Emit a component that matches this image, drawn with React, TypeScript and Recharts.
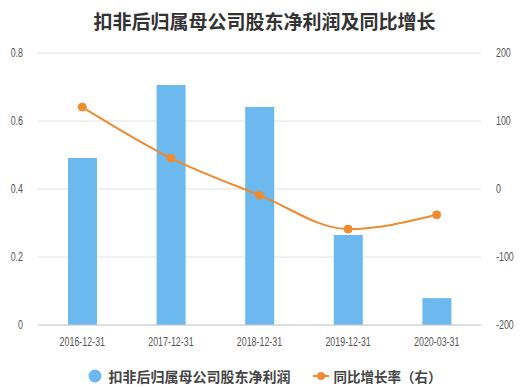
import React from "react";
import { ComposedChart, Bar, Line, XAxis, YAxis, CartesianGrid } from "recharts";

const categories = ["2016-12-31", "2017-12-31", "2018-12-31", "2019-12-31", "2020-03-31"];
const profit = [0.491, 0.706, 0.641, 0.265, 0.079];
const growth = [120.5, 45.5, -9, -59, -38];
const leftTicks = [0, 0.2, 0.4, 0.6, 0.8];
const rightTicks = [-200, -100, 0, 100, 200];
const barName = "扣非后归属母公司股东净利润";
const lineName = "同比增长率（右）";
const title = "扣非后归属母公司股东净利润及同比增长";

const data = categories.map((c, i) => ({ date: c, profit: profit[i], growth: growth[i] }));

const BAR = "#6BB9EF";
const LINE = "#F08B32";
const FONT = "'Liberation Sans', Arial, sans-serif";
const SX = 0.74;

const NarrowTick = (anchor: "start" | "middle" | "end", dy: number) => (props: any) => {
  const { x, y, payload } = props;
  return (
    <text
      transform={`translate(${x},${y}) scale(${SX},1)`}
      textAnchor={anchor}
      dy={dy}
      fontSize={12}
      fill="#555"
      fontFamily={FONT}
    >
      {payload.value}
    </text>
  );
};

const Legend = () => (
  <div style={{ position: "absolute", left: 0, top: 366, width: 529, display: "flex", justifyContent: "center", alignItems: "center", fontFamily: "'Noto Sans CJK SC', sans-serif", fontSize: 14, fontWeight: 700, color: "#444", lineHeight: "20px" }}>
    <svg width={14} height={14} style={{ marginRight: 7 }}>
      <circle cx={7} cy={7} r={6.5} fill={BAR} />
    </svg>
    <span style={{ marginRight: 22 }}>{barName}</span>
    <svg width={16} height={10} style={{ marginRight: 5 }}>
      <line x1={0} y1={5} x2={16} y2={5} stroke={LINE} strokeWidth={2} />
      <circle cx={8} cy={5} r={4} fill={LINE} />
    </svg>
    <span style={{ fontSize: 13.5 }}>{lineName}</span>
  </div>
);

export default function App() {
  return (
    <div style={{ position: "absolute", left: 0, top: 0, width: 529, height: 387, background: "#fff" }}>
      <div style={{ position: "absolute", left: 0, top: 8, width: 529, textAlign: "center", fontFamily: "'Noto Sans CJK SC', sans-serif", fontSize: 19, fontWeight: 700, color: "#333", lineHeight: "26px" }}>
        {title}
      </div>
      <ComposedChart width={529} height={387} data={data} margin={{ top: 53, right: 0, bottom: 32, left: 0 }}>
        <CartesianGrid yAxisId="left" vertical={false} stroke="#e3e3e3" />
        <XAxis
          dataKey="date"
          xAxisId="cat"
          height={30}
          tick={NarrowTick("middle", 13)}
          tickLine={false}
          axisLine={{ stroke: "#cccccc" }}
          interval={0}
          tickSize={6}
          tickMargin={2}
        />
        <XAxis
          xAxisId="marks"
          type="number"
          domain={[0, 5]}
          ticks={[0, 1, 2, 3, 4, 5]}
          height={0}
          tick={false}
          axisLine={false}
          tickLine={{ stroke: "#d8d8d8" }}
          tickSize={5}
        />
        <YAxis
          yAxisId="left"
          width={38}
          domain={[0, 0.8]}
          ticks={leftTicks}
          tick={NarrowTick("end", 4)}
          tickLine={false}
          axisLine={false}
          tickSize={0}
          tickMargin={15}
        />
        <YAxis
          yAxisId="right"
          orientation="right"
          width={48}
          domain={[-200, 200]}
          ticks={rightTicks}
          tick={NarrowTick("start", 4)}
          tickLine={false}
          axisLine={false}
          tickSize={0}
          tickMargin={15}
        />
        <Bar xAxisId="cat" yAxisId="left" dataKey="profit" name={barName} fill={BAR} barSize={29} isAnimationActive={false} />
        <Line
          xAxisId="cat"
          yAxisId="right"
          type="monotone"
          dataKey="growth"
          name={lineName}
          stroke={LINE}
          strokeWidth={2}
          dot={{ r: 4, fill: LINE, stroke: LINE, strokeWidth: 1 }}
          activeDot={false}
          isAnimationActive={false}
        />
      </ComposedChart>
      <Legend />
    </div>
  );
}
